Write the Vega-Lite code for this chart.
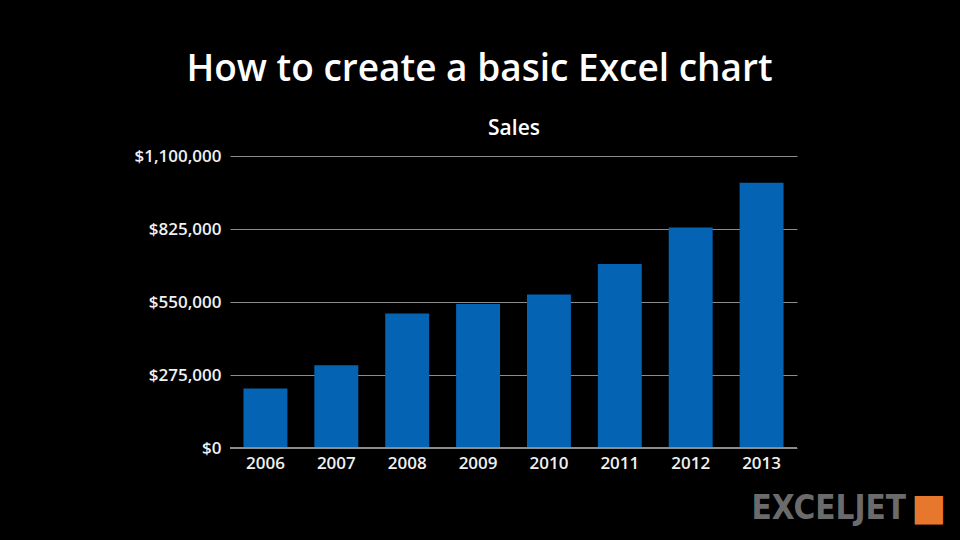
{
  "$schema": "https://vega.github.io/schema/vega-lite/v6.json",
  "width": 567,
  "height": 292,
  "autosize": {"type": "none"},
  "padding": {"left": 230, "top": 156, "right": 163, "bottom": 92},
  "background": "#000000",
  "config": {"view": {"stroke": null}, "font": "Open Sans"},
  "title": {
    "text": "How to create a basic Excel chart",
    "font": "Open Sans",
    "fontSize": 37,
    "fontWeight": 600,
    "color": "#ffffff",
    "anchor": "middle",
    "frame": "group",
    "dx": -34,
    "offset": 28
  },
  "data": {
    "values": [
      {"year": "2006", "sales": 224000},
      {"year": "2007", "sales": 312000},
      {"year": "2008", "sales": 507000},
      {"year": "2009", "sales": 542000},
      {"year": "2010", "sales": 578000},
      {"year": "2011", "sales": 693000},
      {"year": "2012", "sales": 831000},
      {"year": "2013", "sales": 999000}
    ]
  },
  "resolve": {"axis": {"y": "independent"}},
  "layer": [
    {
      "mark": {"type": "bar", "color": "#0563b3"},
      "encoding": {
        "x": {
          "field": "year",
          "type": "ordinal",
          "scale": {"paddingInner": 0.38, "paddingOuter": 0.19},
          "axis": {
            "title": "Sales",
            "titleX": 283.5,
            "titleY": -314,
            "titleAlign": "center",
            "titleBaseline": "alphabetic",
            "titleFont": "Open Sans",
            "titleFontSize": 21,
            "titleFontWeight": 600,
            "titleColor": "#ffffff",
            "labelAngle": 0,
            "labelFont": "Open Sans",
            "labelFontSize": 17,
            "labelFontWeight": 600,
            "labelColor": "#f0f0f0",
            "labelPadding": 7,
            "ticks": false,
            "domain": false
          }
        },
        "y": {
          "field": "sales",
          "type": "quantitative",
          "scale": {"domain": [0, 1100000], "nice": false},
          "axis": {
            "values": [0, 275000, 550000, 825000, 1100000],
            "format": "$,.0f",
            "grid": true,
            "gridColor": "#8c8c8c",
            "gridWidth": 1,
            "domain": false,
            "ticks": false,
            "labelPadding": 9,
            "labelFont": "Open Sans",
            "labelFontSize": 17,
            "labelFontWeight": 600,
            "labelColor": "#f0f0f0",
            "title": "EXCELJET",
            "titleAngle": 0,
            "titleAlign": "left",
            "titleBaseline": "alphabetic",
            "titleX": 521,
            "titleY": 362,
            "titleFont": "Liberation Sans Narrow, DejaVu Sans Condensed, DejaVu Sans",
            "titleFontSize": 33,
            "titleFontWeight": "bold",
            "titleColor": "#6b6b6b"
          }
        }
      }
    },
    {
      "mark": {"type": "rule", "color": "#8c8c8c", "strokeWidth": 1},
      "encoding": {
        "y": {
          "datum": 0,
          "type": "quantitative",
          "axis": {
            "orient": "right",
            "labels": false,
            "ticks": false,
            "domain": false,
            "grid": false,
            "title": "■",
            "titleAngle": 0,
            "titleAlign": "left",
            "titleBaseline": "alphabetic",
            "titleX": 114,
            "titleY": 363,
            "titleFont": "DejaVu Sans",
            "titleFontSize": 37,
            "titleFontWeight": "normal",
            "titleColor": "#e8772e"
          }
        }
      }
    }
  ]
}
